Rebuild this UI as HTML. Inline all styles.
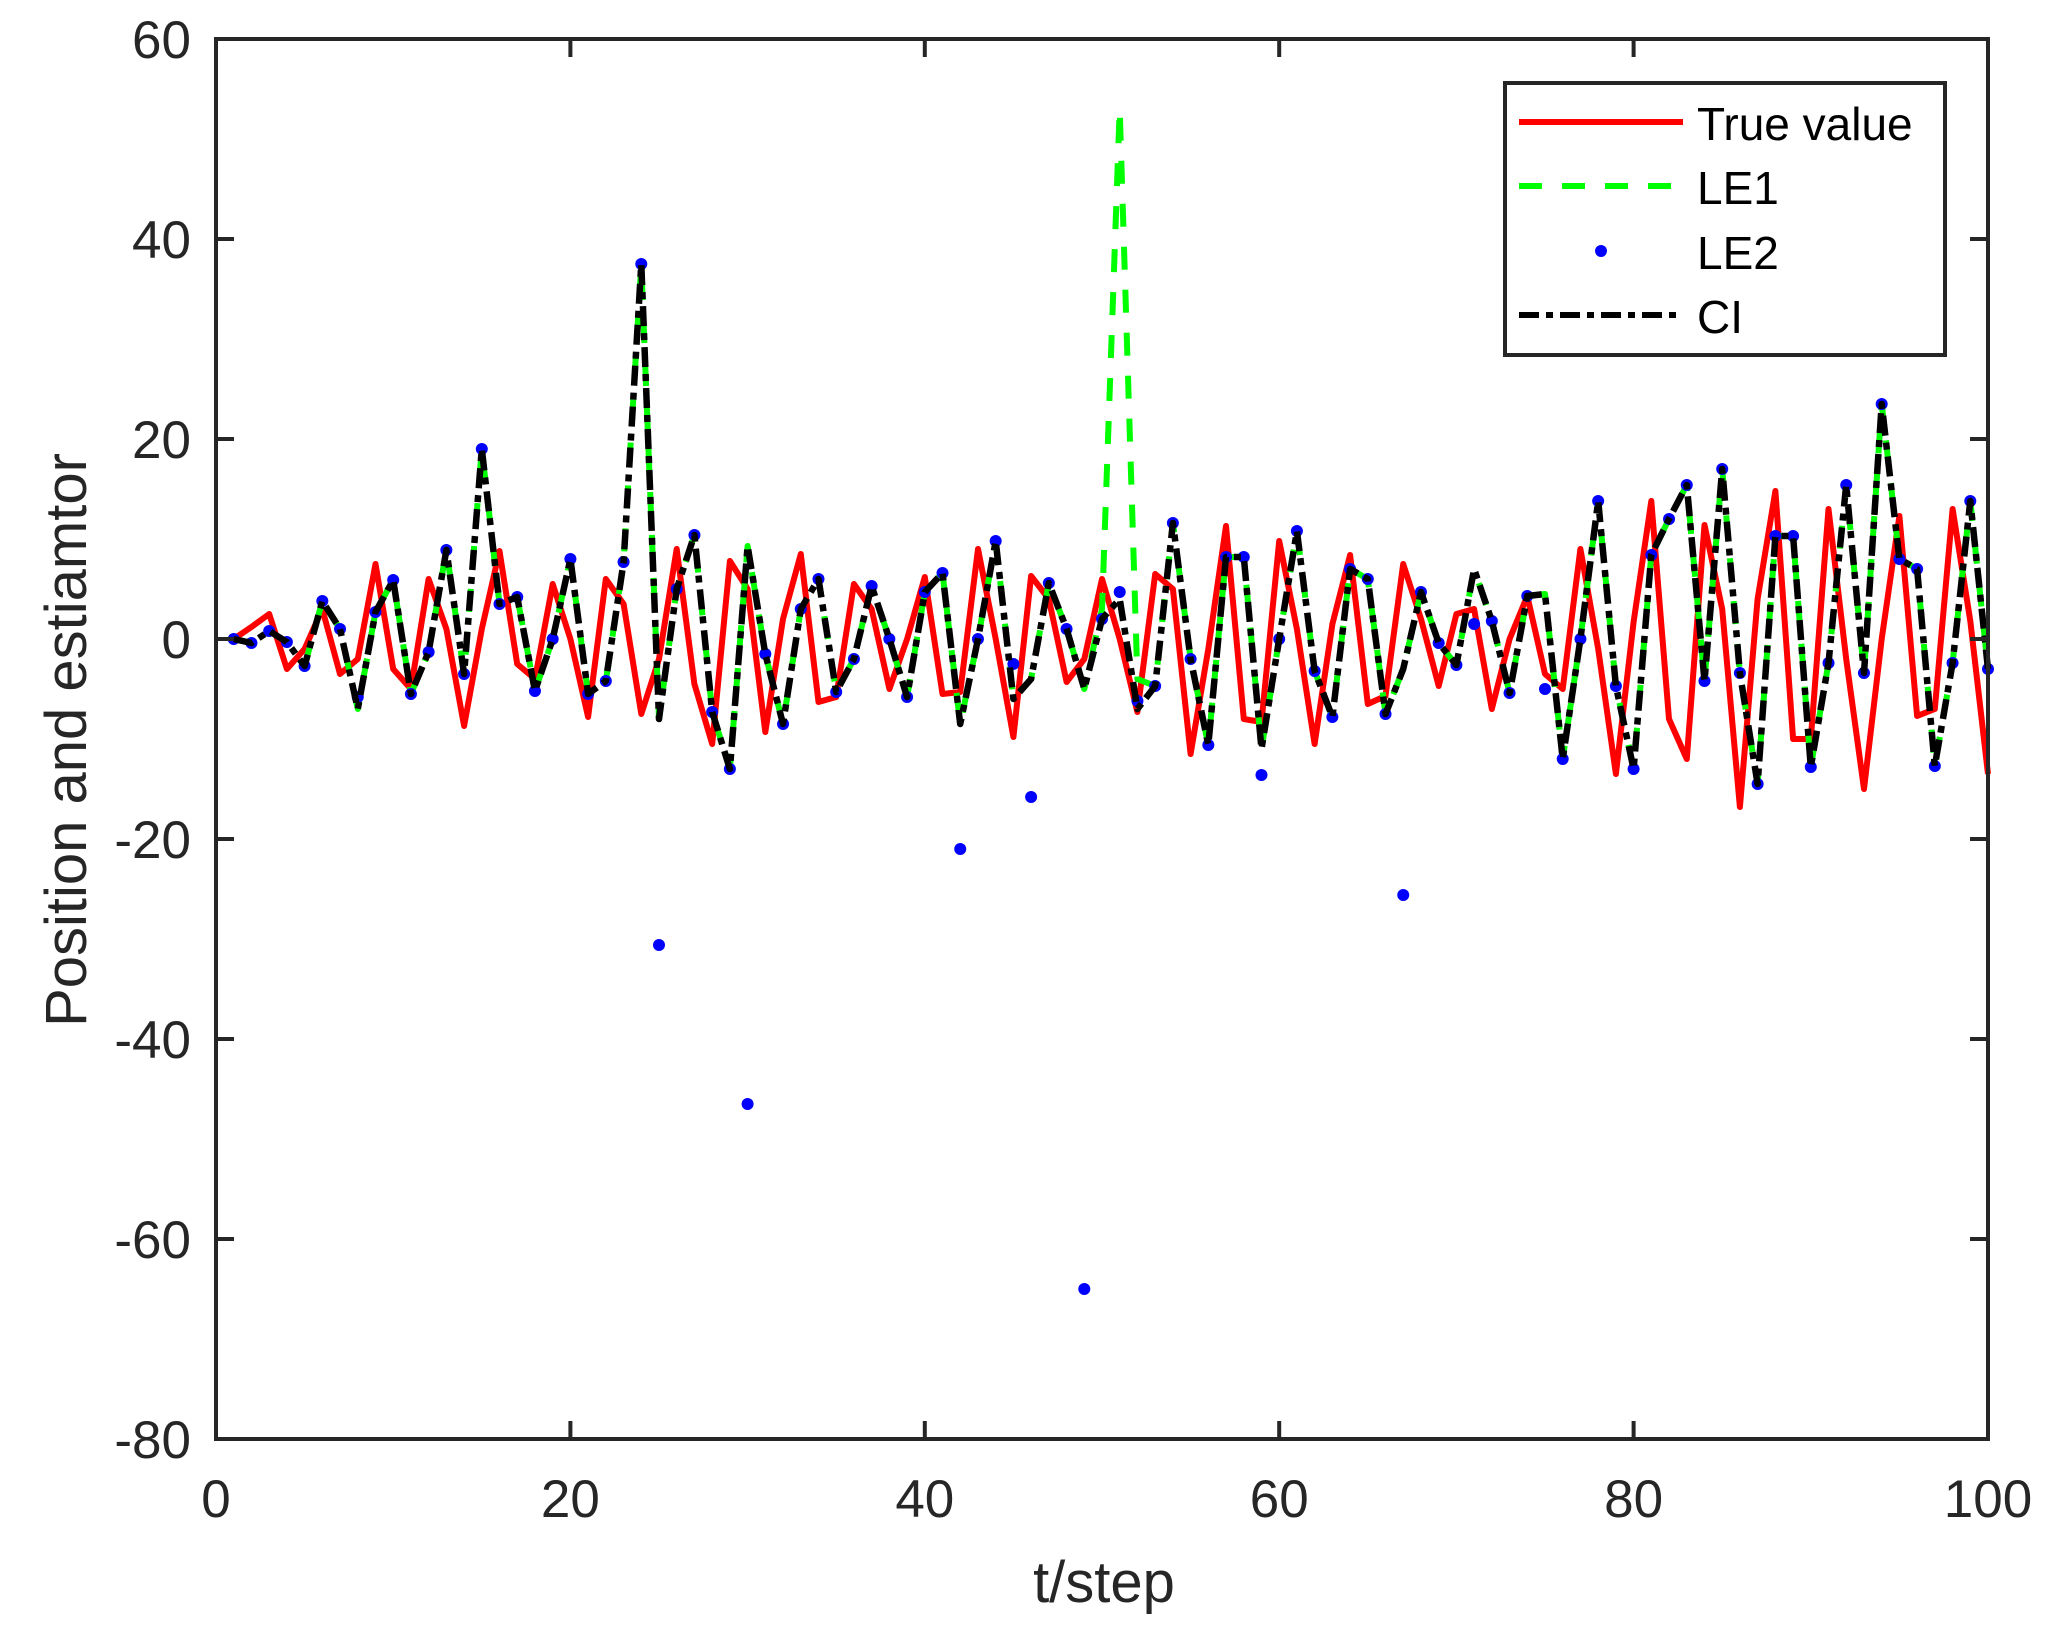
<!DOCTYPE html>
<html><head><meta charset="utf-8"><style>
html,body{margin:0;padding:0;background:#fff;}
svg{display:block;}
text{font-family:"Liberation Sans",Arial,sans-serif;}
</style></head><body>
<svg id="s" width="2051" height="1630" viewBox="0 0 2051 1630" xmlns="http://www.w3.org/2000/svg">
<rect width="2051" height="1630" fill="#fff"/>
<g id="plot"></g>
<g id="axes" stroke="#262626" stroke-width="4" fill="none"></g>
<g font-size="53" fill="#262626" text-anchor="end" id="yl"></g>
<g font-size="53" fill="#262626" text-anchor="middle" id="xl"></g>
<text x="1104" y="1602" font-size="58" fill="#262626" text-anchor="middle">t/step</text>
<text transform="translate(86,740) rotate(-90)" font-size="58" fill="#262626" text-anchor="middle">Position and estiamtor</text>
<rect x="1505" y="83" width="440" height="272" fill="#fff" stroke="#262626" stroke-width="4"/>
<line x1="1519" y1="122" x2="1683" y2="122" stroke="#ff0000" stroke-width="6"/>
<line x1="1519" y1="186" x2="1683" y2="186" stroke="#00ff00" stroke-width="6" stroke-dasharray="23 20"/>
<circle cx="1601" cy="251" r="6" fill="#0000ff"/>
<line x1="1519" y1="315" x2="1683" y2="315" stroke="#000" stroke-width="6" stroke-dasharray="20 7 7 7"/>
<g font-size="46" fill="#000">
<text x="1697" y="140">True value</text>
<text x="1697" y="204">LE1</text>
<text x="1697" y="269">LE2</text>
<text x="1697" y="333">CI</text>
</g>
</svg>
<script>
var L=216,R=1988,T=39,B=1439;
function X(t){return L+(R-L)*t/100;}
function Y(v){return T+(60-v)*10;}
var tv=[0,1.2,2.5,-3,-1,3,-3.5,-2,7.5,-3,-5,6,1,-8.7,1,8.8,-2.5,-4,5.5,0,-7.8,6,3.5,-7.5,-2,9,-4.5,-10.5,7.8,5,-9.3,2,8.5,-6.3,-5.8,5.5,3,-5,0,6.2,-5.5,-5.3,9,0,-9.8,6.3,4,-4.3,-2,6,0,-7.3,6.5,5,-11.5,-1,11.3,-8,-8.3,9.8,1,-10.5,1.5,8.4,-6.5,-5.7,7.5,2,-4.7,2.5,3,-7,0,4.3,-3.5,-5,9,-1,-13.5,1.7,13.8,-8,-12,11.4,3,-16.8,4,14.8,-10,-10,13,-2,-15,0,12.3,-7.7,-7,13,1.8,-13.5];
var le2=[0,-0.4,0.8,-0.3,-2.7,3.8,1,-5.8,2.7,5.9,-5.5,-1.3,8.9,-3.5,19,3.5,4.2,-5.2,0,8,-5.5,-4.2,7.7,37.5,-30.6,5,10.4,-7.3,-13,-46.5,-1.5,-8.5,3,6,-5.3,-2,5.3,0,-5.8,4.7,6.6,-21,0,9.8,-2.5,-15.8,5.6,1,-65,2,4.7,-6.2,-4.7,11.6,-2,-10.6,8.2,8.2,-13.6,0,10.8,-3.2,-7.8,7,6,-7.5,-25.6,4.7,-0.4,-2.6,1.5,1.8,-5.4,4.3,-5,-12,0,13.8,-4.7,-13,8.4,12,15.4,-4.2,17,-3.4,-14.5,10.3,10.3,-12.8,-2.4,15.4,-3.4,23.5,8,7,-12.7,-2.4,13.8,-3];
var ci=le2.slice();
var ov={25:-8,30:9.3,42:-8.5,45:-6,46:-4,49:-5,51:4,52:-7,59:-11,67:-3,71:7,75:4.5,8:-7};
for(var k in ov)ci[k-1]=ov[k];
var le1=ci.slice();le1[50]=53;le1[51]=-4;le1[49]=3;
function pts(a){return a.map(function(v,i){return X(i+1).toFixed(1)+","+Y(v).toFixed(1);}).join(" ");}
var NS="http://www.w3.org/2000/svg",g=document.getElementById("plot");
function pl(a,c,w,d){var p=document.createElementNS(NS,"polyline");p.setAttribute("points",pts(a));p.setAttribute("fill","none");p.setAttribute("stroke",c);p.setAttribute("stroke-width",w);p.setAttribute("stroke-linejoin","round");if(d)p.setAttribute("stroke-dasharray",d);g.appendChild(p);}
pl(tv,"#ff0000",6);
pl(le1,"#00ff00",6,"23 20");
le2.forEach(function(v,i){var c=document.createElementNS(NS,"circle");c.setAttribute("cx",X(i+1));c.setAttribute("cy",Y(v));c.setAttribute("r",6);c.setAttribute("fill","#0000ff");g.appendChild(c);});
pl(ci,"#000",6.5,"20 7 7 7");
var ax=document.getElementById("axes");
var d="M"+L+" "+T+"H"+R+"V"+B+"H"+L+"Z";
for(var t=0;t<=100;t+=20){var x=X(t);d+="M"+x+" "+B+"v-18M"+x+" "+T+"v18";}
for(var v=-80;v<=60;v+=20){var y=Y(v);d+="M"+L+" "+y+"h18M"+R+" "+y+"h-18";}
var p=document.createElementNS(NS,"path");p.setAttribute("d",d);ax.appendChild(p);
var yl=document.getElementById("yl"),xl=document.getElementById("xl");
for(var v=-80;v<=60;v+=20){var tx=document.createElementNS(NS,"text");tx.setAttribute("x",191);tx.setAttribute("y",Y(v)+19);tx.textContent=String(v);yl.appendChild(tx);}
for(var t=0;t<=100;t+=20){var tx=document.createElementNS(NS,"text");tx.setAttribute("x",X(t));tx.setAttribute("y",1517);tx.textContent=String(t);xl.appendChild(tx);}
</script>
</body></html>
